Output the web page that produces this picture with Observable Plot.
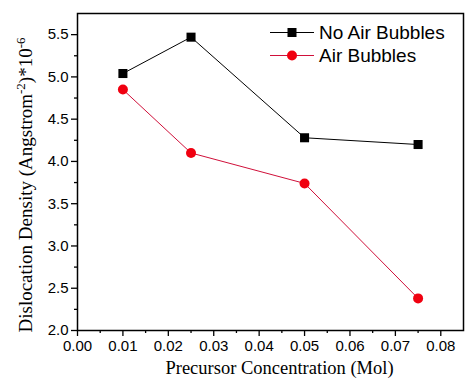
<!DOCTYPE html>
<html><head><meta charset="utf-8">
<script src="https://cdn.jsdelivr.net/npm/d3@7"></script>
<script src="https://cdn.jsdelivr.net/npm/@observablehq/plot@0.6"></script>
<style>
body{margin:0;background:#fff}
#wrap{position:relative;width:474px;height:384px}
#legend{position:absolute;left:270px;top:21px;font-family:"Liberation Sans",Arial,sans-serif;font-size:19px;color:#000}
.row{display:flex;align-items:center;height:23px}
.row svg{margin-right:5px}
</style></head>
<body><div id="wrap"><div id="legend"></div></div>
<script>
const concentration = [0.01, 0.025, 0.05, 0.075];
const noAirBubbles = [5.04, 5.47, 4.28, 4.20];
const airBubbles = [4.85, 4.10, 3.74, 2.38];
const seriesNames = ["No Air Bubbles", "Air Bubbles"];
const xTicks = [0, 0.01, 0.02, 0.03, 0.04, 0.05, 0.06, 0.07, 0.08];
const xMinor = [0.005, 0.015, 0.025, 0.035, 0.045, 0.055, 0.065, 0.075];
const yTicks = [2.0, 2.5, 3.0, 3.5, 4.0, 4.5, 5.0, 5.5];
const yMinor = [2.25, 2.75, 3.25, 3.75, 4.25, 4.75, 5.25];
const xLabel = "Precursor Concentration (Mol)";
const yLabel = "Dislocation Density (Angstrom-2)*10-6";

const lineRed = "#d0103a", dotRed = "#f00010";
const noAir = concentration.map((x, i) => ({x, y: noAirBubbles[i]}));
const air = concentration.map((x, i) => ({x, y: airBubbles[i]}));
const serif = "'Liberation Serif', 'Times New Roman', serif";

const chart = Plot.plot({
  width: 474, height: 384,
  marginLeft: 77, marginRight: 11, marginTop: 13, marginBottom: 54,
  style: {fontFamily: "'Liberation Sans', Arial, sans-serif", fontSize: "15px", background: "#fff", color: "#000"},
  x: {domain: [0, 0.085]},
  y: {domain: [2, 5.75]},
  marks: [
    Plot.axisX({ticks: xTicks, tickSize: 6, tickPadding: 4, tickFormat: d3.format(".2f"), fontSize: 15, label: null, strokeWidth: 1.3}),
    Plot.axisX({ticks: xMinor, tickSize: 3, text: null, label: null, strokeWidth: 1.3}),
    Plot.axisY({ticks: yTicks, tickSize: 6, tickPadding: 3, tickFormat: d3.format(".1f"), fontSize: 15, label: null, strokeWidth: 1.3}),
    Plot.axisY({ticks: yMinor, tickSize: 3, text: null, label: null, strokeWidth: 1.3}),
    Plot.frame({stroke: "#000", strokeWidth: 1.5}),
    Plot.line(noAir, {x: "x", y: "y", stroke: "#000", strokeWidth: 1}),
    Plot.dot(noAir, {x: "x", y: "y", symbol: "square", r: 5.1, fill: "#000", stroke: "none"}),
    Plot.line(air, {x: "x", y: "y", stroke: lineRed, strokeWidth: 1}),
    Plot.dot(air, {x: "x", y: "y", symbol: "circle", r: 5, fill: dotRed, stroke: "none"}),
    Plot.text([xLabel], {frameAnchor: "bottom", dx: 9, dy: 38, text: d => d, textAnchor: "middle", fontFamily: serif, fontSize: 18.5, lineAnchor: "middle"}),
    Plot.text([yLabel], {frameAnchor: "left", dx: -52, dy: 13, text: d => d, textAnchor: "middle", rotate: -90, fontFamily: serif, fontSize: 19, lineAnchor: "middle", className: "ylabel"})
  ]
});
document.getElementById("wrap").prepend(chart);

// render the exponents as raised, smaller text
chart.querySelectorAll(".ylabel text").forEach(t => {
  t.innerHTML = 'Dislocation Density (Angstrom<tspan dy="-7" font-size="13">-2</tspan><tspan dy="7">)*10</tspan><tspan dy="-7" font-size="13">-6</tspan>';
});

const legend = document.getElementById("legend");
const styles = [
  {stroke: "#000", fill: "#000", shape: "square"},
  {stroke: lineRed, fill: dotRed, shape: "circle"}
];
seriesNames.forEach((name, i) => {
  const s = styles[i];
  const row = document.createElement("div");
  row.className = "row";
  const marker = s.shape === "square"
    ? `<rect x="17.5" y="7" width="9" height="9" fill="${s.fill}"/>`
    : `<circle cx="22" cy="11.5" r="5" fill="${s.fill}"/>`;
  row.innerHTML = `<svg width="44" height="23"><line x1="0" x2="44" y1="11.5" y2="11.5" stroke="${s.stroke}" stroke-width="1"/>${marker}</svg><span>${name}</span>`;
  legend.appendChild(row);
});
</script>
</body></html>
